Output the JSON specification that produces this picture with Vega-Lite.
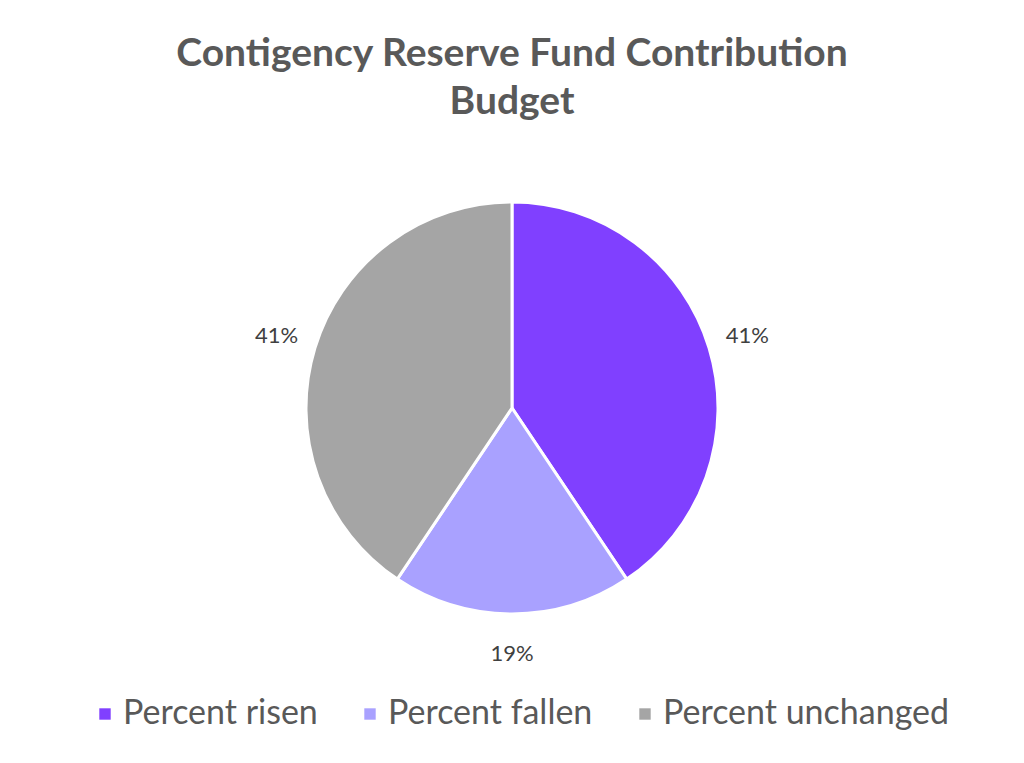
{
  "$schema": "https://vega.github.io/schema/vega-lite/v6.json",
  "width": 1024,
  "height": 763,
  "autosize": {"type": "fit", "contains": "padding"},
  "padding": {"top": 35, "bottom": 32, "left": 88, "right": 88},
  "background": "white",
  "view": {"stroke": null},
  "title": {
    "text": ["Contigency Reserve Fund Contribution", "Budget"],
    "font": "Lato",
    "fontSize": 39,
    "fontWeight": "bold",
    "color": "#595959",
    "lineHeight": 48,
    "anchor": "middle",
    "offset": 37
  },
  "data": {
    "values": [
      {"category": "Percent risen", "share": 0.406, "order": 1},
      {"category": "Percent fallen", "share": 0.188, "order": 2},
      {"category": "Percent unchanged", "share": 0.406, "order": 3}
    ]
  },
  "encoding": {
    "theta": {"field": "share", "type": "quantitative", "stack": true},
    "order": {"field": "order", "type": "quantitative"}
  },
  "layer": [
    {
      "mark": {"type": "arc", "outerRadius": 206, "stroke": "white", "strokeWidth": 3},
      "encoding": {
        "color": {
          "field": "category",
          "type": "nominal",
          "sort": ["Percent risen", "Percent fallen", "Percent unchanged"],
          "scale": {
            "domain": ["Percent risen", "Percent fallen", "Percent unchanged"],
            "range": ["#8040FF", "#A9A1FF", "#A5A5A5"]
          },
          "legend": {
            "title": null,
            "orient": "bottom",
            "direction": "horizontal",
            "symbolType": "square",
            "symbolSize": 130,
            "symbolStrokeWidth": 0,
            "labelFont": "Lato",
            "labelFontSize": 34,
            "labelColor": "#595959",
            "labelOffset": 1,
            "columnPadding": 35,
            "labelLimit": 400,
            "offset": 40
          }
        }
      }
    },
    {
      "mark": {"type": "text", "radius": 246, "font": "Lato", "fontSize": 22},
      "encoding": {
        "text": {"field": "share", "type": "quantitative", "format": ".0%"},
        "color": {"value": "#404040"}
      }
    }
  ]
}
